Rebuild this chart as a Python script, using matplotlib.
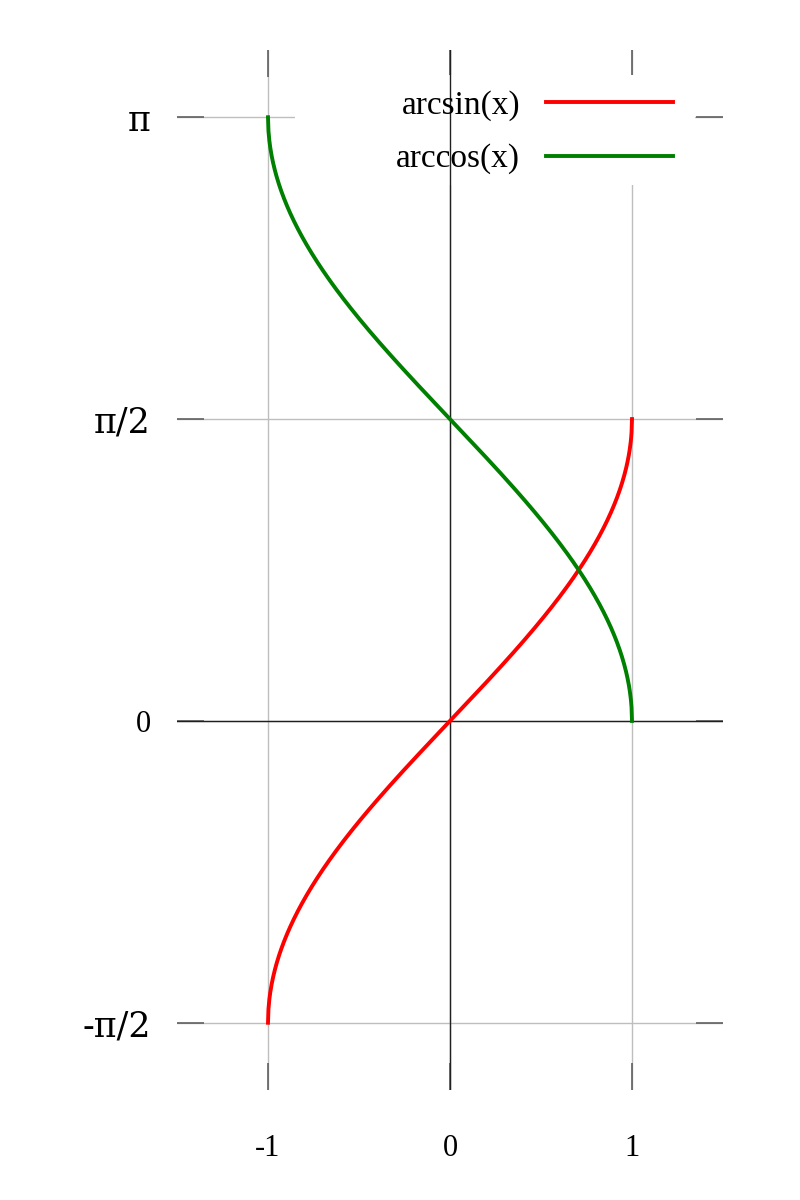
import matplotlib
matplotlib.use("Agg")
import matplotlib.pyplot as plt
import numpy as np
from matplotlib.patches import Rectangle

plt.rcParams['font.family'] = ['Liberation Serif', 'DejaVu Serif']

# data
x = np.linspace(-1, 1, 801)
asin_y = np.arcsin(x)
acos_y = np.arccos(x)
series_labels = ['arcsin(x)', 'arccos(x)']
series_colors = ['#ff0000', '#008000']

xticks = [-1, 0, 1]
xticklabels = ['-1', '0', '1']
yticks = [-np.pi/2, 0, np.pi/2, np.pi]
yticklabels = ['-π/2', '0', 'π/2', 'π']

fig = plt.figure(figsize=(8, 12), dpi=100)
ax = fig.add_axes([0.22125, 0.09167, 0.6825, 0.86667])

ax.set_xlim(-1.5, 1.5)
ax.set_ylim(-np.pi/2 - 0.35, np.pi + 0.35)

for s in ax.spines.values():
    s.set_visible(False)

ax.set_axisbelow(True)
ax.grid(True, color='#bebebe', lw=1.0)

ax.set_xticks(xticks)
ax.set_xticklabels(xticklabels)
ax.set_yticks(yticks)
ax.set_yticklabels(yticklabels)
ax.tick_params(axis='both', direction='in', length=19.5, width=1.2,
               color='#606060', labelsize=22, top=True, right=True)
ax.tick_params(axis='x', pad=32)
ax.tick_params(axis='y', pad=19)

# labels with pi come out in the fallback serif face, a bit larger
for t in ax.get_yticklabels():
    if 'π' in t.get_text():
        t.set_fontfamily('DejaVu Serif')
        t.set_fontsize(25)

# key background (blanks the grid behind it)
ax.add_patch(Rectangle((0.216, 0.870), 0.733, 0.106, transform=ax.transAxes,
                       facecolor='white', edgecolor='none', zorder=1))

# zero axes
ax.axhline(0, color='#202020', lw=1.0, zorder=1.5)
ax.axvline(0, color='#202020', lw=1.0, zorder=1.5)

l1, = ax.plot(x, asin_y, color=series_colors[0], lw=2.8, zorder=3)
l2, = ax.plot(x, acos_y, color=series_colors[1], lw=2.8, zorder=3)

leg = ax.legend([l1, l2], series_labels, loc='upper right',
                bbox_to_anchor=(0.957, 0.987), frameon=False,
                markerfirst=False, fontsize=24, handlelength=3.8,
                handletextpad=0.78, labelspacing=0.68, borderpad=0.3)
leg.set_zorder(2)

fig.savefig('out.png', dpi=100)
